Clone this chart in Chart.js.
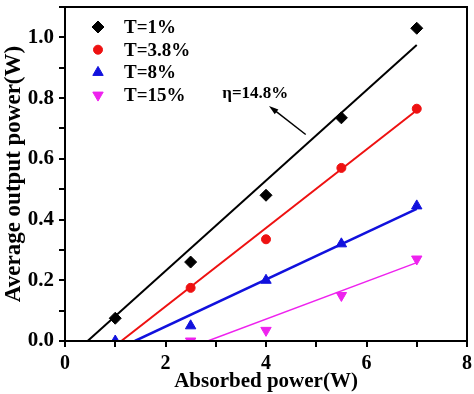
<!DOCTYPE html>
<html><head><meta charset="utf-8">
<script src="https://cdn.jsdelivr.net/npm/chart.js@4"></script>
<style>html,body{margin:0;padding:0;background:#fff}#wrap{width:474px;height:394px}</style>
</head><body><div id="wrap"><canvas id="c" width="474" height="394"></canvas></div>
<script>
// Data (absorbed power in W, output power in W)
const legendLabels = ['T=1%', 'T=3.8%', 'T=8%', 'T=15%'];
const t1X = [1, 2.5, 4, 5.5, 7];
const t1Y = [0.075, 0.26, 0.48, 0.735, 1.03];
const t38X = [2.5, 4, 5.5, 7];
const t38Y = [0.175, 0.335, 0.57, 0.765];
const t8X = [1, 2.5, 4, 5.5, 7];
const t8Y = [0, 0.05, 0.2, 0.32, 0.445];
const t15X = [2.5, 4, 5.5, 7];
const t15Y = [0, 0.035, 0.15, 0.27];
// Linear fit lines: [start, end] points
const fit1X = [0.45, 7], fit1Y = [0, 0.975];
const fit38X = [1.12, 7], fit38Y = [0, 0.76];
const fit8X = [1.39, 7], fit8Y = [0, 0.435];
const fit15X = [2.84, 7], fit15Y = [0, 0.258];
// Annotation
const etaText = 'η=14.8%';
const etaTextPos = [3.13, 0.816];
const arrowTail = [4.79, 0.68];
const arrowTip = [4.06, 0.774];
const xTickLabels = ['0', '2', '4', '6', '8'];
const yTickLabels = ['0.0', '0.2', '0.4', '0.6', '0.8', '1.0'];

const colors = ['#000000', '#ee1111', '#1111dd', '#ee22ee'];
const pts = (xs, ys) => xs.map((x, i) => ({x, y: ys[i]}));
const FONT = '"Liberation Serif", "Times New Roman", serif';

function scatter(xs, ys, c, style, r, rot) {
  return {type: 'scatter', data: pts(xs, ys), showLine: false, backgroundColor: c, borderColor: c,
    pointStyle: style, pointRadius: r, pointHoverRadius: r, pointRotation: rot || 0, borderWidth: 1};
}
function fit(xs, ys, c, w) {
  return {type: 'scatter', data: pts(xs, ys), showLine: true, borderColor: c, borderWidth: w,
    pointRadius: 0, pointHoverRadius: 0, fill: false};
}

const legendMarkers = [
  {style: 'rectRot', r: 6, rot: 0},
  {style: 'circle', r: 4.5, rot: 0},
  {style: 'triangle', r: 6, rot: 0},
  {style: 'triangle', r: 6, rot: 180}
];

const overlay = {
  id: 'overlay',
  afterDraw(chart) {
    const ctx = chart.ctx, a = chart.chartArea, xs = chart.scales.x, ys = chart.scales.y;
    ctx.save();
    // frame
    ctx.strokeStyle = '#000'; ctx.lineWidth = 2;
    ctx.strokeRect(a.left, a.top, a.right - a.left, a.bottom - a.top);
    // legend
    ctx.font = 'bold 19px ' + FONT;
    ctx.textBaseline = 'middle';
    ctx.fillStyle = '#000';
    const lx = 98, ly0 = 27, dy = 22.7;
    legendLabels.forEach((lab, i) => {
      const m = legendMarkers[i];
      ctx.fillStyle = colors[i]; ctx.strokeStyle = colors[i]; ctx.lineWidth = 1;
      Chart.helpers.drawPoint(ctx, {pointStyle: m.style, radius: m.r, rotation: m.rot, borderWidth: 1}, lx, ly0 + i * dy);
      ctx.fillStyle = '#000';
      ctx.fillText(lab, 124, ly0 + i * dy + 1);
    });
    // annotation
    ctx.font = 'bold 17px ' + FONT;
    ctx.fillStyle = '#000';
    ctx.textAlign = 'left';
    ctx.fillText(etaText, xs.getPixelForValue(etaTextPos[0]), ys.getPixelForValue(etaTextPos[1]));
    const tx = xs.getPixelForValue(arrowTail[0]), ty = ys.getPixelForValue(arrowTail[1]);
    const hx = xs.getPixelForValue(arrowTip[0]), hy = ys.getPixelForValue(arrowTip[1]);
    const ang = Math.atan2(hy - ty, hx - tx);
    ctx.strokeStyle = '#000'; ctx.lineWidth = 1.5;
    ctx.beginPath(); ctx.moveTo(tx, ty); ctx.lineTo(hx - 6 * Math.cos(ang), hy - 6 * Math.sin(ang)); ctx.stroke();
    ctx.beginPath();
    ctx.moveTo(hx, hy);
    ctx.lineTo(hx - 10 * Math.cos(ang - 0.3), hy - 10 * Math.sin(ang - 0.3));
    ctx.lineTo(hx - 10 * Math.cos(ang + 0.3), hy - 10 * Math.sin(ang + 0.3));
    ctx.closePath(); ctx.fill();
    ctx.restore();
  }
};

new Chart(document.getElementById('c'), {
  type: 'scatter',
  data: {datasets: [
    scatter(t1X, t1Y, colors[0], 'rectRot', 6),
    scatter(t38X, t38Y, colors[1], 'circle', 4.5),
    scatter(t8X, t8Y, colors[2], 'triangle', 6),
    scatter(t15X, t15Y, colors[3], 'triangle', 6, 180),
    fit(fit1X, fit1Y, colors[0], 2),
    fit(fit38X, fit38Y, colors[1], 2),
    fit(fit8X, fit8Y, colors[2], 2.5),
    fit(fit15X, fit15Y, colors[3], 1.5)
  ]},
  options: {
    responsive: false, animation: false,
    layout: {padding: {top: -3, right: 3, left: 0, bottom: 0}},
    plugins: {legend: {display: false}, tooltip: {enabled: false}},
    scales: {
      x: {type: 'linear', min: 0, max: 8,
        afterFit: s => { s.height = 53; s.paddingLeft = 0; s.paddingRight = 0; },
        border: {display: true, color: '#000', width: 2},
        grid: {display: true, drawOnChartArea: false, drawTicks: true, tickLength: 6, color: '#000', lineWidth: 2},
        ticks: {stepSize: 1, color: '#000', padding: 5, maxRotation: 0, autoSkip: false,
          font: {family: FONT, size: 20, weight: 'bold'},
          callback: v => { const i = xTickLabels.indexOf(String(v)); return i >= 0 ? xTickLabels[i] : ''; }},
        title: {display: true, text: 'Absorbed power(W)', color: '#000', padding: {top: 0, bottom: 0},
          font: {family: FONT, size: 21, weight: 'bold'}}
      },
      y: {type: 'linear', min: 0, max: 1.1,
        afterFit: s => { s.width = 65; s.paddingTop = 0; s.paddingBottom = 0; },
        border: {display: true, color: '#000', width: 2},
        grid: {display: true, drawOnChartArea: false, drawTicks: true, tickLength: 6, color: '#000', lineWidth: 2},
        ticks: {stepSize: 0.1, color: '#000', padding: 5, autoSkip: false,
          font: {family: FONT, size: 21, weight: 'bold'},
          callback: v => { const s = (Math.round(v * 10) / 10).toFixed(1); return yTickLabels.includes(s) ? s : ''; }},
        title: {display: true, text: 'Average output power(W)', color: '#000', padding: {top: 0, bottom: 0},
          font: {family: FONT, size: 23, weight: 'bold'}}
      }
    }
  },
  plugins: [overlay]
});
</script>
</body></html>
